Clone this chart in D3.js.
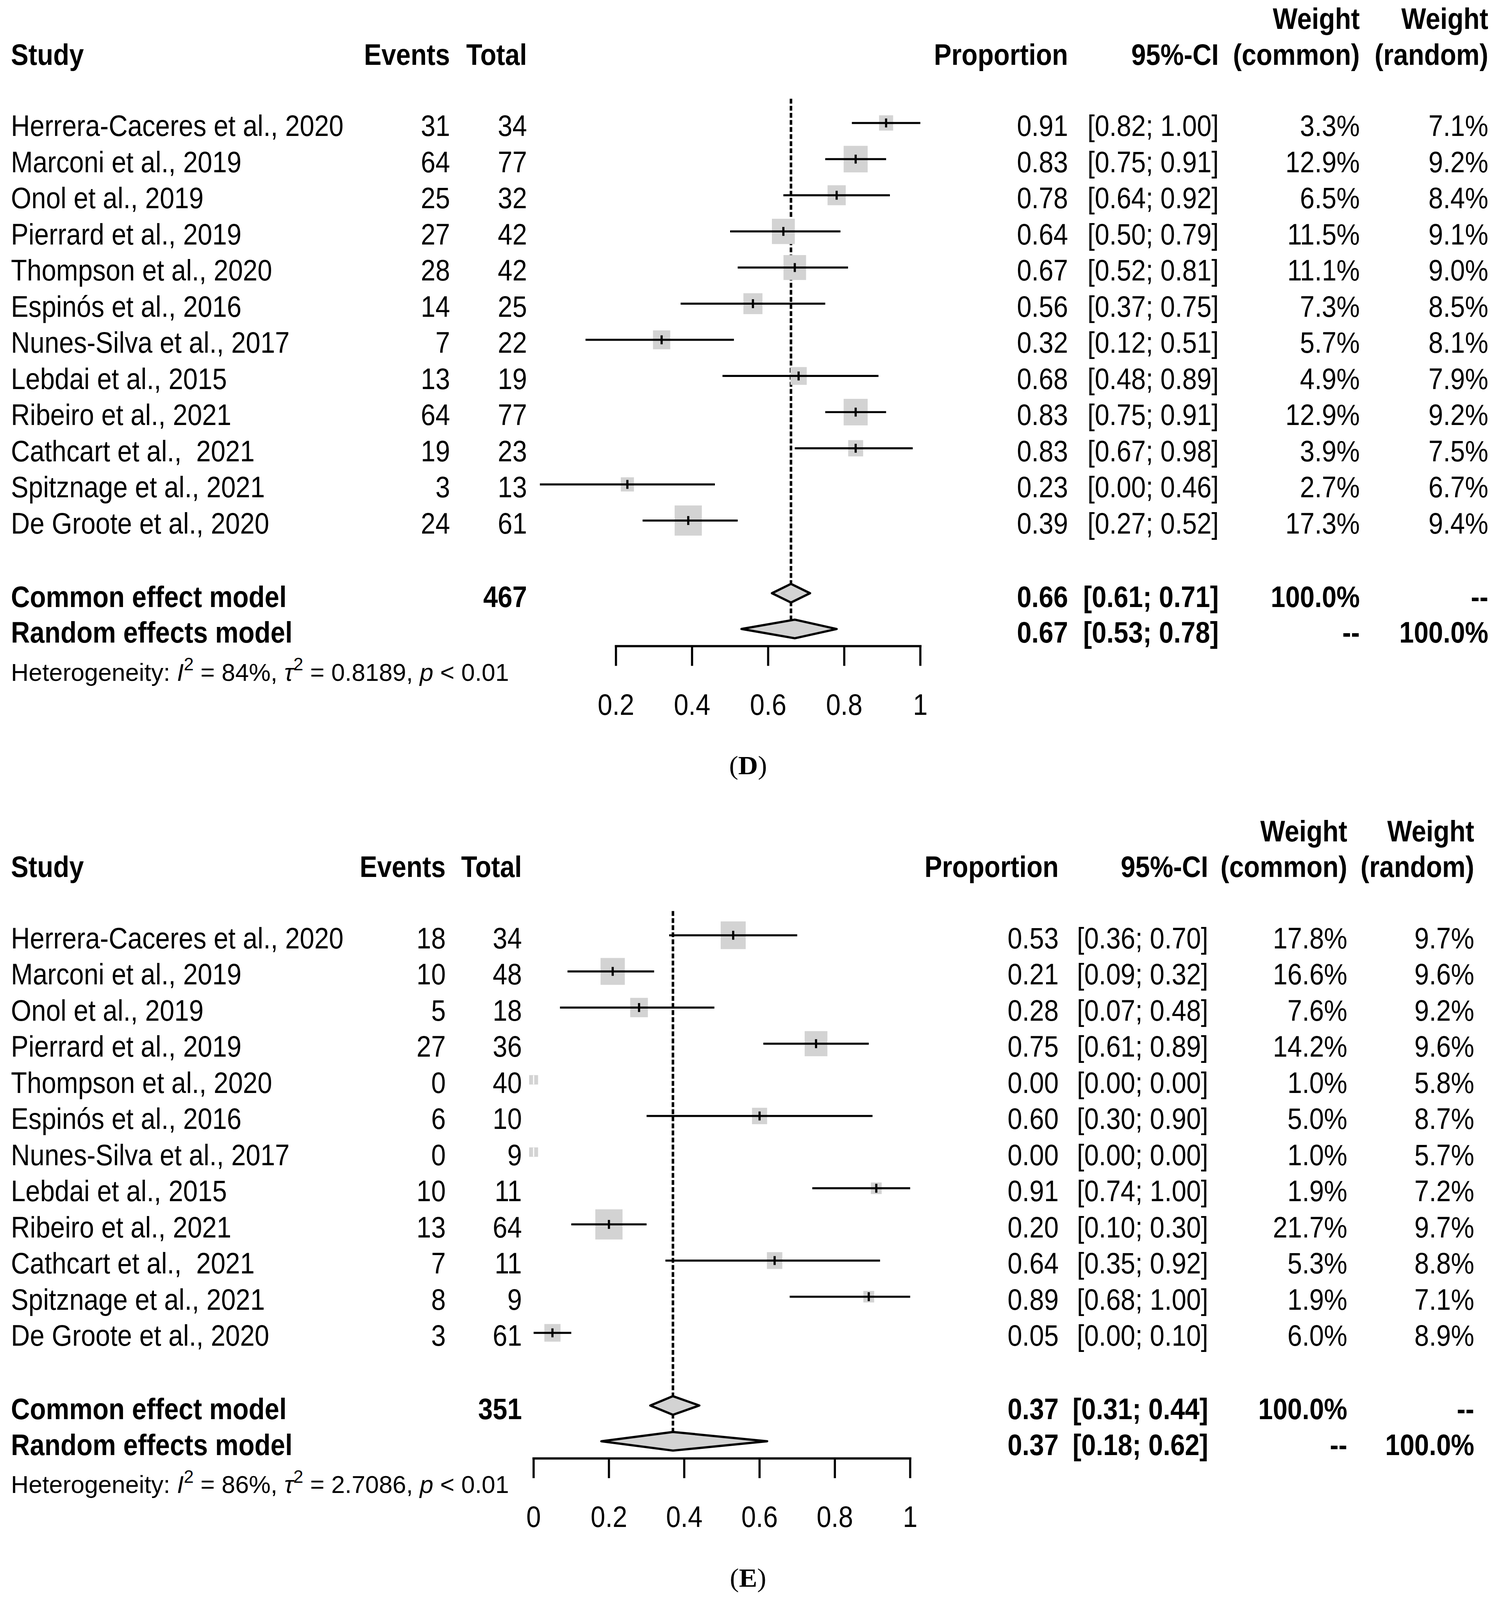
<!DOCTYPE html>
<html>
<head>
<meta charset="utf-8">
<script src="https://cdn.jsdelivr.net/npm/d3@7"></script>
<style>
  html, body { margin: 0; padding: 0; background: #fff; overflow: hidden; }
  svg { display: block; }
  text { white-space: pre; }
</style>
</head>
<body>
<div id="chart"></div>
<script>
// studies (same order in both panels)
const studies = [
    'Herrera-Caceres et al., 2020', 'Marconi et al., 2019', 'Onol et al., 2019',
    'Pierrard et al., 2019', 'Thompson et al., 2020', 'Espinós et al., 2016',
    'Nunes-Silva et al., 2017', 'Lebdai et al., 2015', 'Ribeiro et al., 2021',
    'Cathcart et al.,  2021', 'Spitznage et al., 2021', 'De Groote et al., 2020',
];
const summaryLabels = ['Common effect model', 'Random effects model'];

// panel D
const eventsD = [31, 64, 25, 27, 28, 14, 7, 13, 64, 19, 3, 24];
const totalD = [34, 77, 32, 42, 42, 25, 22, 19, 77, 23, 13, 61];
const propD = [0.91, 0.83, 0.78, 0.64, 0.67, 0.56, 0.32, 0.68, 0.83, 0.83, 0.23, 0.39];
const lowerD = [0.82, 0.75, 0.64, 0.50, 0.52, 0.37, 0.12, 0.48, 0.75, 0.67, 0.00, 0.27];
const upperD = [1.00, 0.91, 0.92, 0.79, 0.81, 0.75, 0.51, 0.89, 0.91, 0.98, 0.46, 0.52];
const wCommonD = [3.3, 12.9, 6.5, 11.5, 11.1, 7.3, 5.7, 4.9, 12.9, 3.9, 2.7, 17.3];
const wRandomD = [7.1, 9.2, 8.4, 9.1, 9.0, 8.5, 8.1, 7.9, 9.2, 7.5, 6.7, 9.4];
const sumPropD = [0.66, 0.67];
const sumLowerD = [0.61, 0.53];
const sumUpperD = [0.71, 0.78];
const sumTotalD = 467;
const hetD = ['84%', '0.8189', '< 0.01'];
const ticksD = [0.2, 0.4, 0.6, 0.8, 1];

// panel E
const eventsE = [18, 10, 5, 27, 0, 6, 0, 10, 13, 7, 8, 3];
const totalE = [34, 48, 18, 36, 40, 10, 9, 11, 64, 11, 9, 61];
const propE = [0.53, 0.21, 0.28, 0.75, 0.00, 0.60, 0.00, 0.91, 0.20, 0.64, 0.89, 0.05];
const lowerE = [0.36, 0.09, 0.07, 0.61, 0.00, 0.30, 0.00, 0.74, 0.10, 0.35, 0.68, 0.00];
const upperE = [0.70, 0.32, 0.48, 0.89, 0.00, 0.90, 0.00, 1.00, 0.30, 0.92, 1.00, 0.10];
const wCommonE = [17.8, 16.6, 7.6, 14.2, 1.0, 5.0, 1.0, 1.9, 21.7, 5.3, 1.9, 6.0];
const wRandomE = [9.7, 9.6, 9.2, 9.6, 5.8, 8.7, 5.7, 7.2, 9.7, 8.8, 7.1, 8.9];
const sumPropE = [0.37, 0.37];
const sumLowerE = [0.31, 0.18];
const sumUpperE = [0.44, 0.62];
const sumTotalE = 351;
const hetE = ['86%', '2.7086', '< 0.01'];
const ticksE = [0, 0.2, 0.4, 0.6, 0.8, 1];

const width = 3845;
const height = 4294;
const fs = 80; // font size
const sx = 0.84; // the original figure is squeezed sideways
const grey = '#d3d3d3';
const boxEdge = 10; // grey outline round each box
const sans = '"Liberation Sans", Arial, Helvetica, sans-serif';

const f2 = d3.format('.2f');
const f1 = d3.format('.1f');

// fit the whole figure into whatever viewport we get
const svg = d3.select('#chart').append('svg')
    .attr('width', window.innerWidth || width)
    .attr('height', window.innerHeight || height)
    .attr('viewBox', `0 0 ${width} ${height}`)
    .attr('preserveAspectRatio', 'none');
svg.append('rect').attr('width', width).attr('height', height).attr('fill', '#fff');

function label(g, x, y, str, anchor, bold) {
    return g.append('text')
        .attr('transform', `translate(${x},${y}) scale(${sx},1)`)
        .attr('text-anchor', anchor || 'start')
        .attr('font-family', sans)
        .attr('font-size', fs)
        .attr('font-weight', bold ? 'bold' : 'normal')
        .attr('fill', '#000')
        .text(str);
}

function drawPanel(p) {
    const g = svg.append('g').attr('transform', `translate(0,${p.top})`);
    const rowY = i => 365 + (97 * i);
    const sumY = [1629, 1725];
    const x = d3.scaleLinear().domain([0, 1]).range(p.xRange);
    // box height grows with the square root of the weight; boxes are squeezed like the text
    const side = d3.scaleSqrt().domain([0, d3.max(p.wCommon)]).range([0, 71]);

    // headers
    label(g, p.col.wc, 78, 'Weight', 'end', true);
    label(g, p.col.wr, 78, 'Weight', 'end', true);
    label(g, 28, 174, 'Study', 'start', true);
    label(g, p.col.events, 174, 'Events', 'end', true);
    label(g, p.col.total, 174, 'Total', 'end', true);
    label(g, p.col.prop, 174, 'Proportion', 'end', true);
    label(g, p.col.ci, 174, '95%-CI', 'end', true);
    label(g, p.col.wc, 174, '(common)', 'end', true);
    label(g, p.col.wr, 174, '(random)', 'end', true);

    // study rows
    studies.forEach((s, i) => {
        const y = rowY(i);
        label(g, 28, y, s);
        label(g, p.col.events, y, p.events[i], 'end');
        label(g, p.col.total, y, p.total[i], 'end');
        label(g, p.col.prop, y, f2(p.prop[i]), 'end');
        label(g, p.col.ci, y, `[${f2(p.lower[i])}; ${f2(p.upper[i])}]`, 'end');
        label(g, p.col.wc, y, `${f1(p.wCommon[i])}%`, 'end');
        label(g, p.col.wr, y, `${f1(p.wRandom[i])}%`, 'end');
    });

    // summary rows
    summaryLabels.forEach((s, k) => {
        const y = sumY[k];
        label(g, 28, y, s, 'start', true);
        if (k === 0) label(g, p.col.total, y, p.sumTotal, 'end', true);
        label(g, p.col.prop, y, f2(p.sumProp[k]), 'end', true);
        label(g, p.col.ci, y, `[${f2(p.sumLower[k])}; ${f2(p.sumUpper[k])}]`, 'end', true);
        label(g, p.col.wc, y, k === 0 ? '100.0%' : '--', 'end', true);
        label(g, p.col.wr, y, k === 0 ? '--' : '100.0%', 'end', true);
    });

    // heterogeneity
    const het = g.append('text')
        .attr('transform', 'translate(28,1827) scale(0.95,1)')
        .attr('font-family', sans)
        .attr('font-size', 66);
    het.append('tspan').text('Heterogeneity: ');
    het.append('tspan').attr('font-style', 'italic').text('I');
    het.append('tspan').attr('dy', -28).attr('font-size', 48).text('2');
    het.append('tspan').attr('dy', 28).text(` = ${p.het[0]}, `);
    het.append('tspan').attr('font-style', 'italic').text('τ');
    het.append('tspan').attr('dy', -28).attr('font-size', 48).text('2');
    het.append('tspan').attr('dy', 28).text(` = ${p.het[1]}, `);
    het.append('tspan').attr('font-style', 'italic').text('p');
    het.append('tspan').text(` ${p.het[2]}`);

    // reference line at the common effect
    g.append('line')
        .attr('x1', x(p.sumProp[0])).attr('x2', x(p.sumProp[0]))
        .attr('y1', 265).attr('y2', sumY[1] - 62)
        .attr('stroke', '#000')
        .attr('stroke-width', 6.5)
        .attr('stroke-dasharray', '13,6');

    // study marks
    const marks = g.append('g').selectAll('g')
        .data(studies.map((s, i) => i))
        .enter()
        .append('g')
        .attr('transform', i => `translate(0,${rowY(i) - 35})`);

    marks.append('rect')
        .attr('x', i => x(p.prop[i]) - (side(p.wCommon[i]) * sx / 2))
        .attr('y', i => -side(p.wCommon[i]) / 2)
        .attr('width', i => side(p.wCommon[i]) * sx)
        .attr('height', i => side(p.wCommon[i]))
        .attr('fill', grey)
        .attr('stroke', grey)
        .attr('stroke-width', boxEdge);

    marks.append('line')
        .attr('x1', i => x(p.lower[i]))
        .attr('x2', i => x(p.upper[i]))
        .attr('stroke', '#000')
        .attr('stroke-width', 5.5);

    marks.append('line')
        .attr('x1', i => x(p.prop[i]))
        .attr('x2', i => x(p.prop[i]))
        .attr('y1', -12)
        .attr('y2', 12)
        .attr('stroke', i => (p.lower[i] === p.upper[i] ? '#fff' : '#000'))
        .attr('stroke-width', i => (p.lower[i] === p.upper[i] ? 3 : 5.5));

    // diamonds
    summaryLabels.forEach((s, k) => {
        const cy = sumY[k] - 37;
        const pts = [
            [x(p.sumLower[k]), cy],
            [x(p.sumProp[k]), cy - 25],
            [x(p.sumUpper[k]), cy],
            [x(p.sumProp[k]), cy + 25],
        ];
        g.append('polygon')
            .attr('points', pts.map(d => d.join(',')).join(' '))
            .attr('fill', grey)
            .attr('stroke', '#000')
            .attr('stroke-width', 6)
            .attr('stroke-linejoin', 'round');
    });

    // axis
    const ticks = p.ticks;
    g.append('line')
        .attr('x1', x(ticks[0])).attr('x2', x(ticks[ticks.length - 1]))
        .attr('y1', 1734).attr('y2', 1734)
        .attr('stroke', '#000')
        .attr('stroke-width', 6)
        .attr('stroke-linecap', 'square');
    g.selectAll('.tick')
        .data(ticks)
        .enter()
        .append('line')
        .attr('class', 'tick')
        .attr('x1', d => x(d)).attr('x2', d => x(d))
        .attr('y1', 1734).attr('y2', 1787)
        .attr('stroke', '#000')
        .attr('stroke-width', 5.5);
    ticks.forEach(d => label(g, x(d), 1918, d3.format('~g')(d), 'middle'));

    // panel letter
    const pl = g.append('text')
        .attr('x', 1915)
        .attr('y', 2078)
        .attr('text-anchor', 'middle')
        .attr('font-family', '"Liberation Serif", "Times New Roman", serif')
        .attr('font-size', 70);
    pl.append('tspan').text('(');
    pl.append('tspan').attr('font-weight', 'bold').text(p.letter);
    pl.append('tspan').text(')');
}

drawPanel({
    top: 0,
    letter: 'D',
    xRange: [1382, 2356],
    col: { events: 1152, total: 1349, prop: 2734, ci: 3120, wc: 3481, wr: 3810 },
    events: eventsD, total: totalD, prop: propD, lower: lowerD, upper: upperD,
    wCommon: wCommonD, wRandom: wRandomD,
    sumProp: sumPropD, sumLower: sumLowerD, sumUpper: sumUpperD, sumTotal: sumTotalD,
    het: hetD, ticks: ticksD,
});

drawPanel({
    top: 2180,
    letter: 'E',
    xRange: [1366, 2330],
    col: { events: 1141, total: 1336, prop: 2710, ci: 3093, wc: 3449, wr: 3774 },
    events: eventsE, total: totalE, prop: propE, lower: lowerE, upper: upperE,
    wCommon: wCommonE, wRandom: wRandomE,
    sumProp: sumPropE, sumLower: sumLowerE, sumUpper: sumUpperE, sumTotal: sumTotalE,
    het: hetE, ticks: ticksE,
});
</script>
</body>
</html>
